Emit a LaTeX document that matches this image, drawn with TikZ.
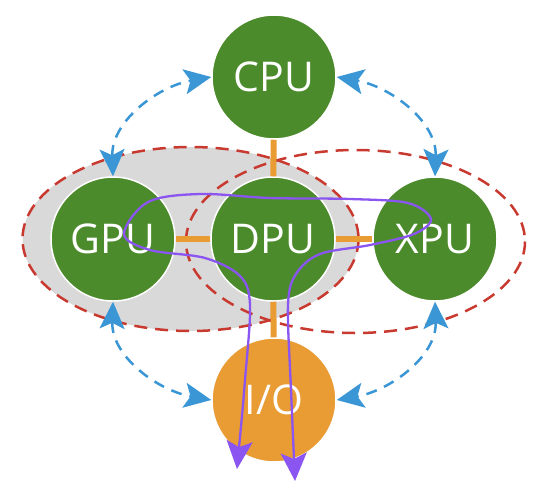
\documentclass[tikz,border=0pt]{standalone}
\usepackage{fontspec}
\setmainfont{Open Sans}
\usepackage{tikz}
\usetikzlibrary{arrows.meta}
\definecolor{pugreen}{HTML}{4C8B2B}
\definecolor{ioorange}{HTML}{E99B34}
\definecolor{syncblue}{HTML}{3A96D4}
\definecolor{grpred}{HTML}{C83A30}
\definecolor{flowpurple}{HTML}{8A55F0}
\tikzset{pu/.style={circle,fill=pugreen,draw=white,line width=1.5pt,minimum size=124pt,inner sep=0pt,text=white,font=\fontsize{41}{41}\selectfont}}
\tikzset{bus/.style={draw=ioorange,line width=6pt}}
\tikzset{grp/.style={draw=grpred,line width=2.5pt,dash pattern=on 13pt off 8pt}}
\tikzset{sync/.style={draw=syncblue,line width=2.5pt,dash pattern=on 11pt off 8pt,{Stealth[length=27pt,width=25pt,inset=6pt]}-{Stealth[length=27pt,width=25pt,inset=6pt]}}}
\tikzset{flow/.style={draw=flowpurple,line width=2.3pt,{Stealth[length=28pt,width=26pt,inset=6pt]}-{Stealth[length=28pt,width=26pt,inset=6pt]}}}

\begin{document}
\begin{tikzpicture}[x=1pt,y=-1pt]
        \useasboundingbox (0,0) rectangle (556,493);
        \fill[gray!30] (190.5,239) ellipse [x radius=168,y radius=92];
        \draw[grp] (190.5,239) ellipse [x radius=168,y radius=92];
        \draw[grp] (355.5,241.5) ellipse [x radius=169.5,y radius=91.5];
        \node[pu] (CPU) at (274,77) {CPU};
        \node[pu] (GPU) at (113,239) {GPU};
        \node[pu] (DPU) at (273,239) {DPU}
          edge [bus] (CPU)
          edge [bus] (GPU);
        \node[pu] (XPU) at (435,239) {XPU}
          edge [bus] (DPU);
        \node[pu,fill=ioorange] (IO) at (274,400) {I/O}
          edge [bus] (DPU);
        \draw[sync] (GPU.north) to[out=92,in=190] (CPU.west);
        \draw[sync] (XPU.north) to[out=88,in=-10] (CPU.east);
        \draw[sync] (GPU.south) to[out=-92,in=170] (IO.west);
        \draw[sync] (XPU.south) to[out=-88,in=10] (IO.east);
        \coordinate (outL) at (237,469);
        \coordinate (outR) at (295,481);
        \draw[flow] plot[smooth,tension=0.55] coordinates {(outL) (245,380) (250,305) (240,276) (205,258) (150,250) (124,234) (148,202) (200,194) (270,198) (350,199) (408,203) (431,219) (414,234) (370,245) (320,254) (296,274) (288,305) (291,390) (outR)};
      \end{tikzpicture}
\end{document}
